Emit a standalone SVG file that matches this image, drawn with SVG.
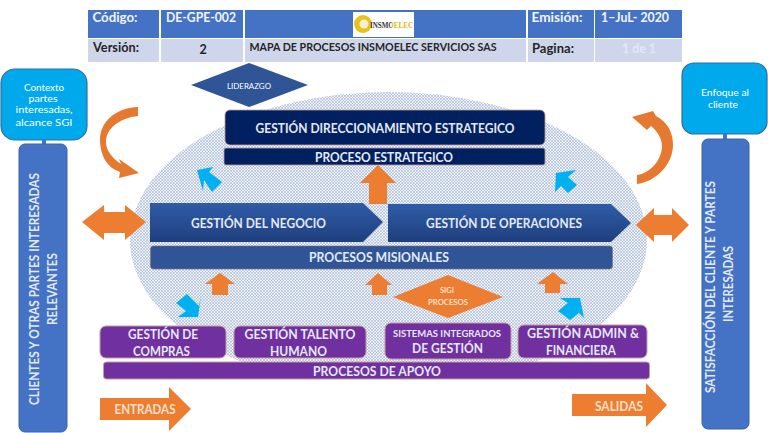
<svg xmlns="http://www.w3.org/2000/svg" width="768" height="433" viewBox="0 0 768 433">
<style>
text{font-family:"Lato","Liberation Sans",sans-serif;font-weight:700;text-anchor:middle;font-size:12.5px}
.hd{fill:#4472c4}.lt{fill:#cfd5ea}
.t{fill:#f2f5fb}
.k{fill:#262626}
.w{fill:#e3e9f5}
.or{fill:#ed7d31}.bl{fill:#00b0f0}
.ot{fill:#fbe0cd}
.cy{fill:#00a9ec;stroke:#2f6e9e;stroke-width:1.200}
.pu{fill:#7030a0;stroke:#c59a9a;stroke-width:1}
.nv{fill:#002060;stroke:#c59a9a;stroke-width:.8}
.side{fill:#4472c4;stroke:#3a62a8;stroke-width:1}
.n{font-weight:400;fill:#fff;font-size:9.500px}
.logo{font-family:"Liberation Serif",serif;font-size:8px}
</style>
<defs>
<pattern id="hatch" width="3" height="3" patternUnits="userSpaceOnUse"><rect width="3" height="3" fill="#eff3f8"/><path d="M0 0L3 3M3 0L0 3" stroke="#9aaccb" stroke-width=".55"/></pattern>
<linearGradient id="g" x1="0" y1="0" x2="0" y2="1"><stop offset="0" stop-color="#2f5ca8"/><stop offset="1" stop-color="#1f3f7d"/></linearGradient>
<linearGradient id="logoFill" gradientUnits="userSpaceOnUse" x1="370" y1="0" x2="413" y2="0"><stop offset=".52" stop-color="#3a3a3a"/><stop offset=".52" stop-color="#d9b514"/></linearGradient>
<clipPath id="clipEll"><rect x="0" y="0" width="768" height="379"/></clipPath>
</defs>
<rect width="768" height="433" fill="#fff"/>
<g id="header">
<rect class="hd" x="88" y="10" width="71" height="28"/><rect class="hd" x="161" y="10" width="82" height="28"/><rect class="hd" x="245" y="10" width="281" height="28"/><rect class="hd" x="528" y="10" width="66" height="28"/><rect class="hd" x="595" y="10" width="87" height="28"/>
<rect class="lt" x="88" y="39" width="71" height="23"/><rect class="lt" x="161" y="39" width="82" height="23"/><rect class="lt" x="245" y="39" width="281" height="23"/><rect class="lt" x="528" y="39" width="66" height="23"/><rect class="lt" x="595" y="39" width="87" height="23"/>
<text class="t" x="115" y="22" textLength="45" lengthAdjust="spacingAndGlyphs">Código:</text><text class="t" x="201" y="22" textLength="70" lengthAdjust="spacingAndGlyphs">DE-GPE-002</text><text class="t" x="557" y="22" textLength="51" lengthAdjust="spacingAndGlyphs">Emisión:</text><text class="t" x="635" y="22" textLength="68" lengthAdjust="spacingAndGlyphs">1–JuL- 2020</text>
<text class="k" x="116" y="52" textLength="46" lengthAdjust="spacingAndGlyphs">Versión:</text><text class="k" x="203" y="54">2</text><text class="k" style="font-size:10.500px" x="373" y="51" textLength="247" lengthAdjust="spacingAndGlyphs">MAPA DE PROCESOS INSMOELEC SERVICIOS SAS</text><text class="k" x="553" y="53" textLength="42" lengthAdjust="spacingAndGlyphs">Pagina:</text><text x="639" y="53" textLength="34" lengthAdjust="spacingAndGlyphs" style="fill:#e4e8f4">1 de 1</text>
<rect x="353" y="12" width="61" height="25" fill="#fff"/><circle cx="363" cy="24" r="9" fill="#e8c21a"/><circle cx="364" cy="24" r="4.500" fill="#f5f0d0"/>
<text class="logo" x="391.500" y="28" textLength="43" lengthAdjust="spacingAndGlyphs" fill="url(#logoFill)">INSMOELEC</text>
</g>
<ellipse id="ellipse" cx="388.500" cy="240" rx="258.500" ry="148" fill="url(#hatch)" clip-path="url(#clipEll)"/>
<g id="liderazgo"><polygon points="191,85 249,63 308,85 249,107" fill="#2f5597"/><text x="249" y="89" textLength="44" lengthAdjust="spacingAndGlyphs" class="n" style="font-size:8px">LIDERAZGO</text></g>
<g id="contexto"><rect class="cy" x="1" y="69" width="86" height="71" rx="14"/><text class="n" x="44" y="91" textLength="40" lengthAdjust="spacingAndGlyphs">Contexto</text><text class="n" x="43" y="102" textLength="29" lengthAdjust="spacingAndGlyphs">partes</text><text class="n" x="44" y="113" textLength="57" lengthAdjust="spacingAndGlyphs">interesadas,</text><text class="n" x="44" y="126" textLength="57" lengthAdjust="spacingAndGlyphs">alcance  SGI</text></g>
<g id="clientes"><rect x="42" y="140" width="4" height="5" fill="#4472c4"/><rect class="side" x="19" y="144" width="48" height="288" rx="6"/><text class="w" transform="translate(39 289) rotate(-90)" textLength="232" lengthAdjust="spacingAndGlyphs">CLIENTES Y OTRAS PARTES INTERESADAS</text><text class="w" transform="translate(57 289) rotate(-90)" textLength="72" lengthAdjust="spacingAndGlyphs">RELEVANTES</text></g>
<g id="enfoque"><rect class="cy" x="682" y="63" width="85" height="71" rx="12"/><text class="n" x="725" y="96" textLength="48" lengthAdjust="spacingAndGlyphs">Enfoque al</text><text class="n" x="723" y="108" textLength="30" lengthAdjust="spacingAndGlyphs">cliente</text></g>
<g id="satisfaccion"><rect x="723" y="134" width="4" height="5" fill="#4472c4"/><rect class="side" x="702" y="139" width="47" height="290" rx="6"/><text class="w" transform="translate(715 287) rotate(-90)" textLength="212" lengthAdjust="spacingAndGlyphs">SATISFACCIÓN DEL CLIENTE Y PARTES</text><text class="w" transform="translate(733 284) rotate(-90)" textLength="76" lengthAdjust="spacingAndGlyphs">INTERESADAS</text></g>
<g id="direccionamiento"><rect class="nv" x="225" y="110" width="320" height="35" rx="5"/><text x="385" y="133" textLength="259" lengthAdjust="spacingAndGlyphs" class="w">GESTIÓN DIRECCIONAMIENTO ESTRATEGICO</text></g>
<g id="estrategico"><rect class="nv" x="224" y="148" width="321" height="17" rx="2"/><text x="384" y="162" textLength="138" lengthAdjust="spacingAndGlyphs" class="w">PROCESO ESTRATEGICO</text></g>
<g id="negocio"><polygon points="150,203 363,203 383,222 363,242 150,242" fill="url(#g)"/><text x="258.500" y="228" textLength="135" lengthAdjust="spacingAndGlyphs" class="w">GESTIÓN DEL NEGOCIO</text></g>
<g id="operaciones"><polygon points="388,204 611,204 631,223 611,242 388,242" fill="url(#g)"/><text x="504" y="228" textLength="156" lengthAdjust="spacingAndGlyphs" class="w">GESTIÓN DE OPERACIONES</text></g>
<g id="misionales"><rect x="150.500" y="246" width="462" height="23" rx="3" fill="#2f5597" stroke="#8a6a6a" stroke-width=".6"/><text x="379" y="262" textLength="140" lengthAdjust="spacingAndGlyphs" class="w">PROCESOS  MISIONALES</text></g>
<g id="sigi"><polygon points="393,297 448,275 503,297 448,318" class="or"/><text x="447" y="293" class="ot" style="font-size:7.500px">SIGI</text><text x="448" y="305" textLength="40" lengthAdjust="spacingAndGlyphs" class="ot" style="font-size:7.500px">PROCESOS</text></g>
<g id="compras"><rect class="pu" x="100" y="326" width="126" height="32" rx="6"/><text class="w" x="163" y="339" textLength="70" lengthAdjust="spacingAndGlyphs">GESTIÓN DE</text><text class="w" x="161.500" y="356" textLength="57" lengthAdjust="spacingAndGlyphs">COMPRAS</text></g>
<g id="talento"><rect class="pu" x="234" y="326" width="132" height="32" rx="6"/><text class="w" x="300" y="339" textLength="111" lengthAdjust="spacingAndGlyphs">GESTIÓN  TALENTO</text><text class="w" x="298.500" y="356" textLength="57" lengthAdjust="spacingAndGlyphs">HUMANO</text></g>
<g id="sistemas"><rect class="pu" x="385" y="323" width="126" height="36" rx="6"/><text class="w" x="447" y="337" textLength="108" lengthAdjust="spacingAndGlyphs" style="font-size:10px">SISTEMAS INTEGRADOS</text><text class="w" x="447.500" y="353" textLength="71" lengthAdjust="spacingAndGlyphs">DE GESTIÓN</text></g>
<g id="admin"><rect class="pu" x="518" y="325" width="129" height="33" rx="6"/><text class="w" x="583" y="338" textLength="112" lengthAdjust="spacingAndGlyphs">GESTIÓN  ADMIN &amp;</text><text class="w" x="581" y="355" textLength="70" lengthAdjust="spacingAndGlyphs">FINANCIERA</text></g>
<g id="apoyo"><rect class="pu" x="103.500" y="362" width="546" height="17" rx="3"/><text class="w" x="377" y="376" textLength="128" lengthAdjust="spacingAndGlyphs">PROCESOS  DE APOYO</text></g>
<g id="entradas"><polygon class="or" points="100,398 169,398 169,387 191,409 169,431 169,420 100,420"/><text x="145" y="414" textLength="61" lengthAdjust="spacingAndGlyphs" class="ot">ENTRADAS</text></g>
<g id="salidas"><polygon class="or" points="572,394 646,394 646,383 667,405 646,427 646,416 572,416"/><text x="619" y="411" textLength="48" lengthAdjust="spacingAndGlyphs" class="ot">SALIDAS</text></g>
<g id="connectors">
<polygon class="or" points="82,222 104,205 104,212 125,212 125,205 146,222 125,240 125,233 104,233 104,240"/>
<polygon class="or" points="636,225 654,208 654,215 672,215 672,208 689,225 672,242 672,235 654,235 654,242"/>
<polygon class="or" points="378,165 396,183 387,183 387,204 369,204 369,183 360,183"/>
<path d="M138 107L138 116C120 118 106 128 106 142C106 150 112 158 121 164L119 159L139 173L119 178L120 172C107 168 100 155 100 140C100 122 115 108 138 107Z" fill="#e5792f"/>
<path d="M632 117L653 111L656 116C668 122 673 133 673 145C673 165 655 182 637 184L637 175C652 173 662 158 662 146C662 138 657 131 651 126L647 130Z" fill="#e5792f"/>
<polygon class="bl" points="197,170 213,167 209,172 222,182 212,192 204,180 203,191"/>
<polygon class="bl" points="556,173 576,170 568,177 577,185 568,193 561,186 555,192"/>
<polygon class="or" points="220,273 235,284 228,284 228,295 212,295 212,284 205,284"/>
<polygon class="or" points="378,273 392,285 387,285 387,295 372,295 372,285 365,285"/>
<polygon class="or" points="553,272 568,284 560,284 560,293 545,293 545,284 537,284"/>
<polygon class="bl" points="187,294 199,306 201,296 198,317 178,317 186,311 176,303"/>
<polygon class="bl" points="560,298 580,298 584,318 579,313 570,320 558,311 568,303"/>
</g>
</svg>
